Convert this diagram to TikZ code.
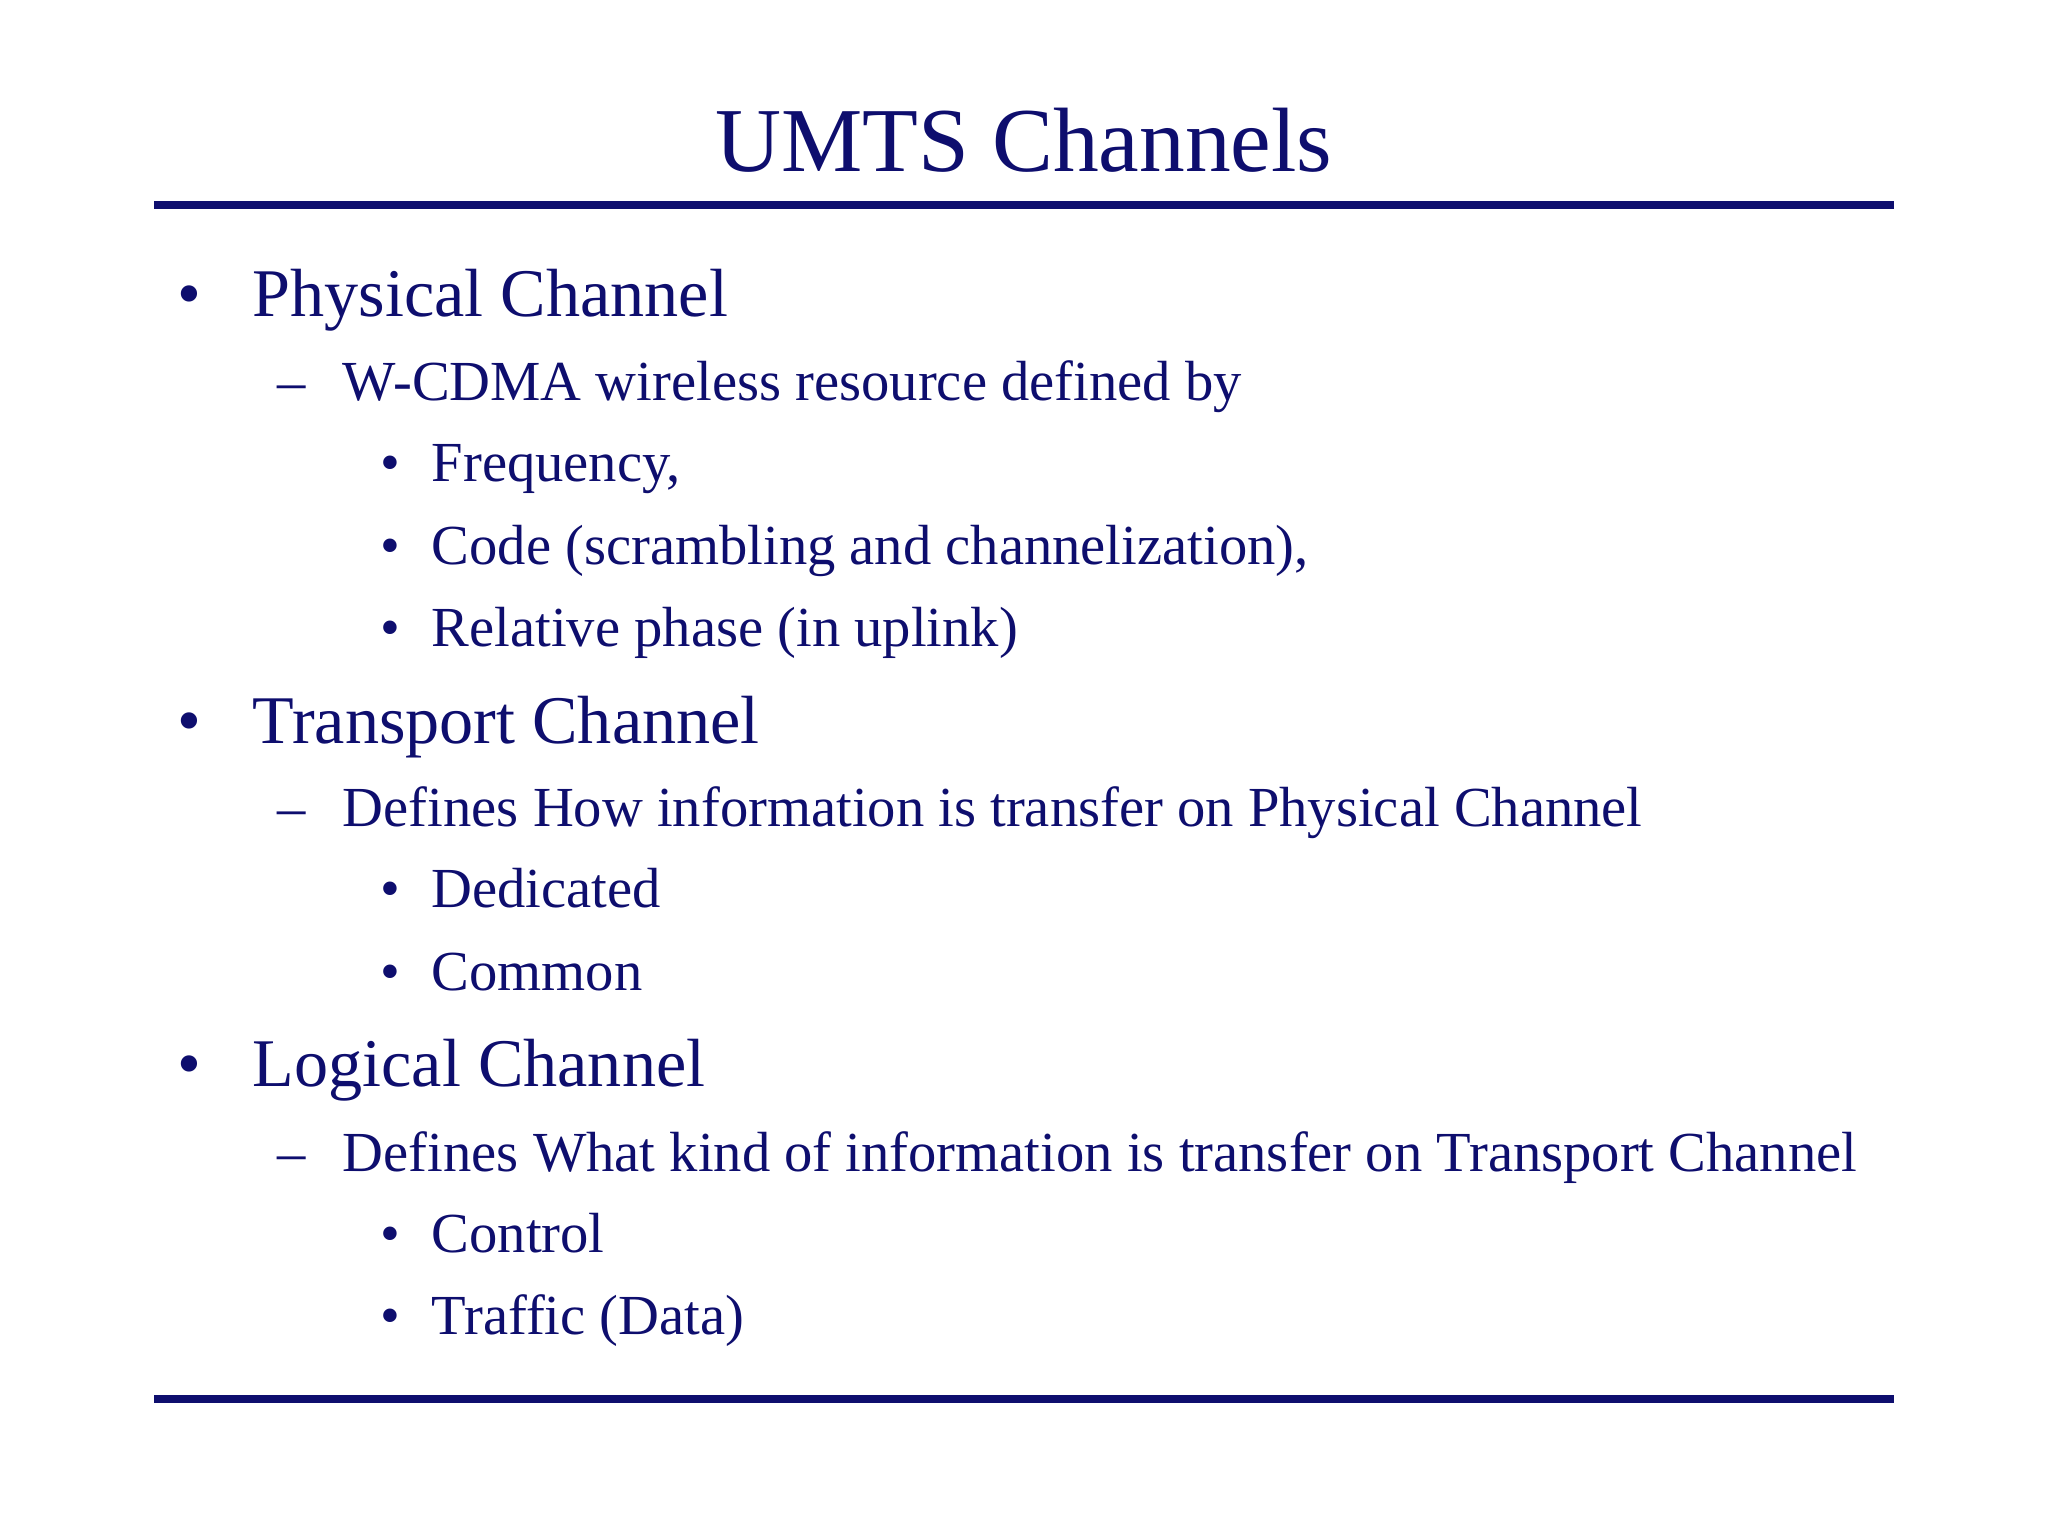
\documentclass[tikz,border=0pt]{standalone}
\usepackage{fontspec}
\setmainfont{Liberation Serif}
\definecolor{navy}{RGB}{14,14,110}
\begin{document}
\begin{tikzpicture}[x=0.01306cm,y=-0.01306cm,
  every node/.style={text=navy,inner sep=0pt,anchor=base west},
  lone/.style={font=\fontsize{19.4}{22}\selectfont},
  ltwo/.style={font=\fontsize{16.1}{19}\selectfont},
  lthree/.style={font=\fontsize{16.1}{19}\selectfont},
  rule/.style={draw=navy,line width=2.4pt}]
\useasboundingbox (0,0) rectangle (1568,1176);
\node[anchor=base,font=\fontsize{26}{30}\selectfont] (title) at (784,131) {UMTS Channels};
\coordinate (t1) at (118,157); \coordinate (t2) at (1450,157);
\coordinate (b1) at (118,1071); \coordinate (b2) at (1450,1071);
\draw[rule] (t1) -- (t2);
\draw[rule] (b1) -- (b2);
% level 1
\foreach \y/\t [count=\i] in {242/Physical Channel,569/Transport Channel,832/Logical Channel}{
  \node[lone] (bl\i) at (135,\y) {•};
  \node[lone] (l\i) at (193,\y) {\t};
}
% level 2
\foreach \y/\t [count=\i] in {307/W-CDMA wireless resource defined by,633/Defines How information is transfer on Physical Channel,897/Defines What kind of information is transfer on Transport Channel}{
  \node[ltwo] (dm\i) at (212,\y) {–};
  \node[ltwo] (m\i) at (262,\y) {\t};
}
% level 3
\foreach \y/\t [count=\i] in {369/{Frequency,},432/{Code (scrambling and channelization),},495/Relative phase (in uplink),695/Dedicated,758/Common,959/Control,1022/Traffic (Data)}{
  \node[lthree] (bs\i) at (291,\y) {•};
  \node[lthree] (s\i) at (330,\y) {\t};
}
\end{tikzpicture}
\end{document}
